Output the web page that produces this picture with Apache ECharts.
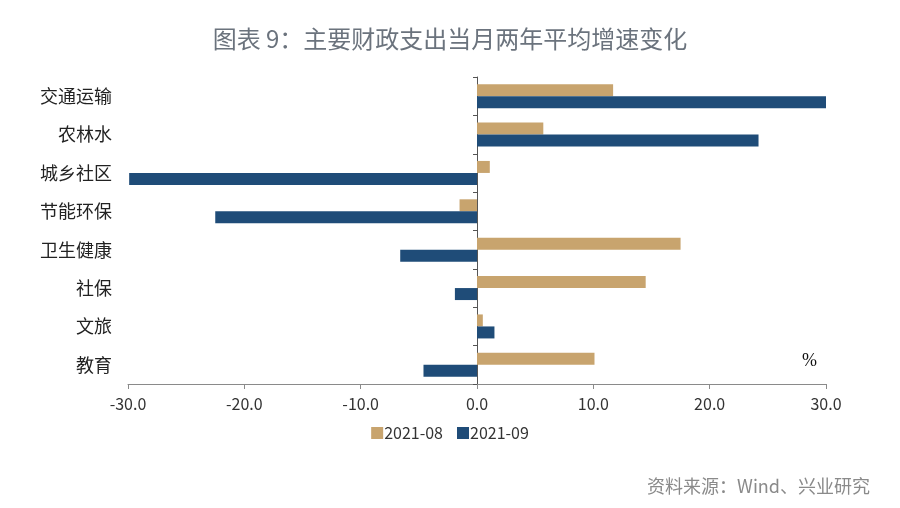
<!DOCTYPE html>
<html>
<head>
<meta charset="utf-8">
<script src="https://cdn.jsdelivr.net/npm/echarts@6/dist/echarts.min.js"></script>
<style>
  html, body { margin: 0; padding: 0; background: #fff; }
  #chart { width: 900px; height: 508px; }
</style>
</head>
<body>
<div id="chart"></div>
<script>
// 类别与数据（两年平均增速，%）
const categories = ['交通运输', '农林水', '城乡社区', '节能环保', '卫生健康', '社保', '文旅', '教育'];
const aug2021 = [11.7, 5.7, 1.1, -1.5, 17.5, 14.5, 0.5, 10.1];
const sep2021 = [30.0, 24.2, -29.9, -22.5, -6.6, -1.9, 1.5, -4.6];
const xTicks = { min: -30, max: 30, interval: 10 };

const chart = echarts.init(document.getElementById('chart'));

const option = {
  animation: false,
  title: {
    text: '图表 9：主要财政支出当月两年平均增速变化',
    left: 'center',
    top: 22,
    textStyle: { fontFamily: 'Noto Sans CJK SC', fontSize: 24, fontWeight: 'normal', color: '#6b737d' }
  },
  legend: {
    bottom: 62,
    left: 'center',
    itemWidth: 12,
    itemHeight: 12,
    itemGap: 14,
    icon: 'rect',
    textStyle: { fontFamily: 'Noto Sans CJK SC', fontSize: 16, color: '#333', padding: [0, 0, 0, -4] },
    data: ['2021-08', '2021-09']
  },
  grid: { left: 128, right: 74, top: 77, bottom: 124 },
  xAxis: {
    type: 'value',
    min: xTicks.min,
    max: xTicks.max,
    interval: xTicks.interval,
    splitLine: { show: false },
    axisLine: { show: true, onZero: false, lineStyle: { color: '#8a8a8a' } },
    axisTick: { show: true, length: 5, lineStyle: { color: '#8a8a8a' } },
    axisLabel: {
      margin: 12,
      fontFamily: 'Noto Sans CJK SC',
      fontSize: 16,
      color: '#333',
      formatter: v => v.toFixed(1)
    }
  },
  yAxis: [
    {
      type: 'category',
      inverse: true,
      data: categories,
      axisLine: { show: false, onZero: false },
      axisTick: { show: false },
      axisLabel: { margin: 16, fontFamily: 'Noto Sans CJK SC', fontSize: 18, color: '#222' }
    },
    {
      type: 'category',
      inverse: true,
      position: 'left',
      data: categories,
      axisLine: { show: true, onZero: true, lineStyle: { color: '#555' } },
      axisTick: { show: true, length: 4, lineStyle: { color: '#555' } },
      axisLabel: { show: false }
    }
  ],
  series: [
    {
      name: '2021-08',
      type: 'bar',
      yAxisIndex: 0,
      data: aug2021,
      barWidth: 12,
      barGap: '0%',
      itemStyle: { color: '#c8a46e' }
    },
    {
      name: '2021-09',
      type: 'bar',
      yAxisIndex: 0,
      data: sep2021,
      barWidth: 12,
      barGap: '0%',
      itemStyle: { color: '#1f4c78' }
    }
  ],
  graphic: [
    {
      type: 'text',
      left: 802,
      top: 352,
      style: { text: '%', font: '18px "Liberation Serif"', fill: '#111' }
    },
    {
      type: 'text',
      right: 30,
      top: 477,
      style: { text: '资料来源：Wind、兴业研究', font: '18px "Noto Sans CJK SC"', fill: '#8a8a8a' }
    }
  ]
};

chart.setOption(option);
</script>
</body>
</html>
